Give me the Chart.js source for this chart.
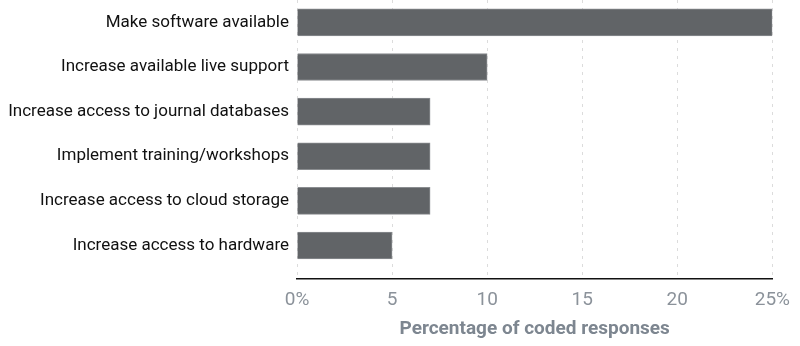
<!DOCTYPE html>
<html>
<head>
<meta charset="utf-8">
<script src="https://cdn.jsdelivr.net/npm/chart.js@4/dist/chart.umd.min.js"></script>
<style>
  html, body { margin: 0; padding: 0; background: #fff; }
  #wrap { width: 800px; height: 346px; }
</style>
</head>
<body>
<div id="wrap"><canvas id="bars"></canvas></div>
<script>
var categories = [
    'Make software available',
    'Increase available live support',
    'Increase access to journal databases',
    'Implement training/workshops',
    'Increase access to cloud storage',
    'Increase access to hardware'
];
var values = [25, 10, 7, 7, 7, 5];
var xTicks = [0, 5, 10, 15, 20, 25];

var ctx = document.getElementById('bars').getContext('2d');
var chart = new Chart(ctx, {
    type: 'bar',
    data: {
        datasets: [{
            data: values.map((v, i) => ({ x: v, y: i })),
            backgroundColor: '#616467',
            borderColor: '#8a8d90',
            borderWidth: 1,
            barThickness: 27
        }]
    },
    options: {
        indexAxis: 'y',
        responsive: true,
        maintainAspectRatio: false,
        animation: false,
        layout: { padding: { left: 0, right: 27, top: 0, bottom: 0 } },
        plugins: { legend: { display: false }, tooltip: { enabled: false } },
        scales: {
            x: {
                type: 'linear',
                min: 0,
                max: 25,
                afterBuildTicks: function (scale) {
                    scale.ticks = xTicks.map(v => ({ value: v }));
                },
                afterFit: function (scale) { scale.height = 67; },
                ticks: {
                    color: '#8b929a',
                    font: { family: 'Roboto', size: 19 },
                    padding: 10,
                    callback: function (v) {
                        return (v === 0 || v === 25) ? v + '%' : v;
                    }
                },
                grid: {
                    color: '#dcdcdc',
                    drawTicks: false
                },
                // in v4 border.dash styles the grid lines, the axis line stays solid
                border: { display: true, color: '#111', width: 1.5, dash: [3, 5] },
                title: {
                    display: true,
                    text: 'Percentage of coded responses',
                    color: '#7d8690',
                    font: { family: 'Roboto', size: 19, weight: 'bold' },
                    padding: { top: 4, bottom: 5 }
                }
            },
            y: {
                type: 'linear',
                reverse: true,
                offset: false,
                min: -0.5,
                max: 5.75,
                afterBuildTicks: function (scale) {
                    scale.ticks = categories.map((c, i) => ({ value: i }));
                },
                afterFit: function (scale) {
                    scale.width = 297;
                    scale.paddingTop = 0;
                    scale.paddingBottom = 0;
                },
                ticks: {
                    color: '#111',
                    font: { family: 'Roboto', size: 17 },
                    padding: 8,
                    callback: function (v) { return categories[v]; }
                },
                grid: { display: false, drawTicks: false, offset: false },
                border: { display: false }
            }
        }
    }
});
</script>
</body>
</html>
